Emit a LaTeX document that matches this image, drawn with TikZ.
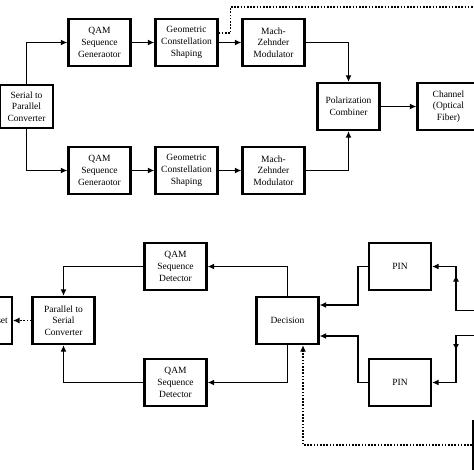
\documentclass[tikz,border=0pt]{standalone}
\usepackage{fontspec}
\setmainfont{Liberation Serif}
\usetikzlibrary{arrows.meta}

\tikzset{
	blok/.style={draw, line width=2.3pt, minimum width=62pt, minimum height=47pt,
		align=center, inner sep=1pt, font=\fontsize{9.5}{11.7}\selectfont},
	line/.style={line width=1.4pt},
	arr/.style={line, -{Latex[length=6.5pt,width=6pt]}},
	dots/.style={line width=1.5pt, dash pattern=on 1.6pt off 1.6pt},
}

\begin{document}
\begin{tikzpicture}[x=1pt, y=-1pt]
	\useasboundingbox (0,0) rectangle (474,474);
	\clip (0,0) rectangle (474,474);

	% transmitter
	\node[blok, minimum width=53pt, minimum height=43pt] (s2p) at (26.5,106.5) {Serial to\\Parallel\\Converter};
	\foreach \r/\y in {T/42.5,B/170.5} {
		\node[blok] (qam\r) at (99.5,\y) {QAM\\Sequence\\Generaotor};
		\node[blok] (gcs\r) at (186.5,\y) {Geometric\\Constellation\\Shaping};
		\node[blok] (mzm\r) at (273.5,\y) {Mach-\\Zehnder\\Modulator};
		\draw[arr] (qam\r) -- (gcs\r);
		\draw[arr] (gcs\r) -- (mzm\r);
	}
	\node[blok] (pc) at (348.5,106.5) {Polarization\\Combiner};
	\node[blok] (chan) at (448.5,106.5) {Channel\\(Optical\\Fiber)};

	\draw[arr] (s2p.north) |- (qamT.west);
	\draw[arr] (s2p.south) |- (qamB.west);
	\draw[arr] (mzmT.east) -| (pc.north);
	\draw[arr] (mzmB.east) -| (pc.south);
	\draw[arr] (pc) -- (chan);

	\coordinate (fbT) at (480,7);
	\draw[dots] ([yshift=9.5pt]gcsT.east) -- ++(12,0) |- (fbT);

	% receiver
	\node[blok] (qdT) at (175.5,266.5) {QAM\\Sequence\\Detector};
	\node[blok] (qdB) at (175.5,382.5) {QAM\\Sequence\\Detector};
	\node[blok] (p2s) at (63.5,320.5) {Parallel to\\Serial\\Converter};
	\node[blok] (dec) at (287.5,320.5) {Decision};
	\node[blok] (pinT) at (400,266.5) {PIN};
	\node[blok] (pinB) at (400,382.5) {PIN};
	\node[blok, anchor=east, text width=62pt, inner xsep=4pt, align=right] (dset) at (13,320.5) {Dataset};
	\node[blok, anchor=west] (fbB) at (472,445) {};

	\draw[arr] (dec.north) |- (qdT.east);
	\draw[arr] (dec.south) |- (qdB.east);
	\draw[arr] (qdT.west) -| (p2s.north);
	\draw[arr] (qdB.west) -| (p2s.south);
	\draw[dots, -{Latex[length=6.5pt,width=6pt]}] (p2s) -- (dset);

	\draw[arr] (pinT.west) -- ++(-10,0) |- ([yshift=15.5pt]dec.east);
	\draw[arr] (pinB.west) -- ++(-10,0) |- ([yshift=-15.5pt]dec.east);

	\coordinate (rxT) at (480,310.7);
	\coordinate (rxB) at (480,335.7);
	\draw[arr] (rxT) -- ++(-24,0) |- (pinT.east);
	\draw[arr] (rxB) -- ++(-24,0) |- (pinB.east);
	\draw[arr] (456,292) -- (456,275);
	\draw[arr] (456,340) -- (456,350.5);

	\draw[dots, -{Latex[length=6.5pt,width=6pt]}] (fbB.west) -| ([xshift=15.5pt]dec.south);
\end{tikzpicture}
\end{document}
